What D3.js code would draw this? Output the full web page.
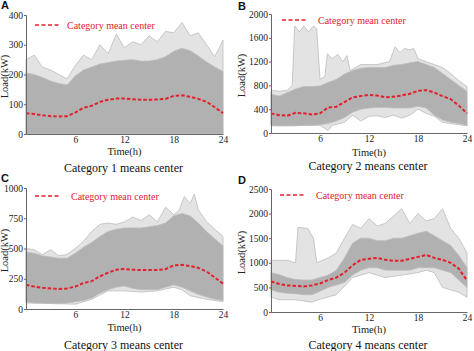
<!DOCTYPE html>
<html>
<head>
<meta charset="utf-8">
<script src="https://cdn.jsdelivr.net/npm/d3@7"></script>
<style>
  body { margin: 0; background: #fff; }
  svg { display: block; }
  text { font-family: "Liberation Serif", "DejaVu Serif", serif; }
</style>
</head>
<body>
<svg id="viz"></svg>
<script>
var width = 474;
var height = 351;

// hours 0..24
var hours = d3.range(0, 25);

// Category 1
var meanA = [70, 67, 63, 60, 59, 60, 72, 88, 95, 108, 115, 119, 119, 117, 115, 115, 116, 118, 128, 130, 125, 118, 108, 90, 70];
var hiA = [205, 200, 190, 178, 170, 165, 195, 215, 225, 235, 240, 245, 248, 250, 245, 245, 250, 260, 278, 288, 280, 262, 242, 225, 210];
var loA = [0, 0, 0, 0, 0, 0, 0, 0, 0, 0, 0, 0, 0, 0, 0, 0, 0, 0, 0, 0, 0, 0, 0, 0, 0];
var maxA = [[0, 250], [1, 265], [2, 225], [3, 215], [4, 200], [5, 185], [6, 230], [7, 265], [8, 250], [9, 300], [10, 270], [11, 335], [12, 290], [13, 310], [14, 300], [15, 330], [16, 310], [17, 345], [18, 340], [19, 375], [20, 330], [21, 340], [22, 300], [23, 260], [24, 315]];

// Category 2
var meanB = [330, 300, 290, 340, 330, 310, 330, 430, 440, 520, 600, 620, 640, 630, 600, 610, 630, 660, 710, 720, 680, 620, 570, 460, 330];
var hiB = [650, 620, 680, 740, 780, 780, 790, 850, 900, 990, 1050, 1090, 1100, 1100, 1100, 1140, 1150, 1180, 1200, 1150, 1100, 1000, 900, 800, 700];
var loB = [130, 120, 120, 120, 130, 130, 140, 160, 200, 260, 350, 400, 420, 430, 430, 420, 420, 420, 450, 420, 300, 220, 180, 160, 130];
var maxB = [[0, 720], [1, 700], [2, 720], [2.6, 800], [2.9, 1800], [3.5, 1700], [4, 1800], [4.6, 1700], [5.2, 1800], [5.6, 1750], [6, 900], [6.6, 950], [6.9, 1330], [7.5, 1250], [8.2, 1320], [8.8, 1200], [9.3, 1300], [9.7, 1050], [11, 1150], [13, 1150], [14.5, 1200], [15.2, 1450], [15.8, 1350], [16.3, 1420], [17, 1400], [17.5, 1420], [18, 1250], [19, 1200], [20, 1150], [21, 1100], [22, 1000], [23, 880], [24, 780]];
var minB = [[0, 120], [6, 130], [7, 40], [7.5, 130], [9, 180], [10, 300], [11, 200], [12, 280], [13, 290], [14, 260], [15, 300], [16, 250], [17, 300], [18, 400], [19, 330], [20, 280], [21, 180], [22, 160], [24, 120]];

// Category 3
var meanC = [200, 185, 175, 170, 165, 170, 185, 215, 230, 270, 300, 325, 330, 325, 322, 322, 322, 330, 360, 365, 355, 340, 310, 260, 210];
var hiC = [470, 460, 440, 430, 420, 420, 460, 510, 550, 600, 640, 660, 670, 670, 670, 680, 690, 710, 770, 790, 770, 710, 640, 580, 520];
var loC = [60, 50, 50, 45, 45, 50, 60, 70, 90, 130, 160, 180, 190, 170, 160, 160, 160, 180, 200, 180, 150, 120, 100, 80, 70];
var maxC = [[0, 500], [1, 490], [2, 450], [3, 490], [4, 440], [5, 450], [6, 500], [7, 560], [8, 640], [9, 700], [10, 710], [11, 700], [12, 720], [13, 760], [14, 730], [15, 780], [16, 720], [17, 840], [18, 780], [18.6, 810], [19.3, 930], [20, 870], [20.5, 950], [21, 820], [22, 720], [23, 660], [24, 600]];
var minC = [[0, 50], [6, 40], [8, 80], [10, 150], [12, 150], [14, 140], [16, 150], [18, 180], [19, 160], [20, 110], [22, 80], [24, 60]];

// Category 4
var meanD = [620, 570, 540, 530, 520, 540, 580, 650, 700, 800, 950, 1060, 1080, 1100, 1060, 1040, 1040, 1080, 1120, 1160, 1100, 1060, 1000, 880, 640];
var hiD = [800, 760, 700, 660, 650, 650, 700, 750, 850, 1100, 1400, 1500, 1500, 1450, 1450, 1500, 1500, 1550, 1600, 1640, 1550, 1450, 1350, 1150, 900];
var loD = [450, 400, 380, 370, 350, 350, 420, 500, 550, 600, 750, 850, 900, 900, 850, 850, 850, 850, 900, 900, 900, 850, 800, 650, 500];
var maxD = [[0, 1050], [2, 1050], [3, 1000], [3.3, 1720], [4.5, 1700], [5.2, 1500], [5.6, 1000], [7, 1100], [8, 1200], [9, 1500], [10, 1780], [11, 1700], [12, 1900], [13, 1750], [14, 1800], [15, 1950], [16, 2100], [17, 1800], [18, 2000], [19, 1850], [20, 1900], [21, 2100], [22, 1700], [23, 1500], [24, 1200]];
var minD = [[0, 300], [1, 250], [3, 250], [5, 200], [6, 260], [8, 350], [10, 700], [12, 800], [14, 700], [16, 750], [18, 800], [19, 850], [20, 800], [21, 500], [22, 450], [23, 400], [24, 300]];

var xTicks = [6, 12, 18, 24];

var panels = [
    { letter: "A", title: "Category 1 means center", mean: meanA, hi: hiA, lo: loA, max: maxA, min: null,
      yMax: 400, yTicks: [0, 100, 200, 300, 400], x0: 26, x1: 223, y0: 134, y1: 15, ox: 0, oy: 0,
      timeY: 155, titleY: 172, legX: 35, legTx: 67, legY: 25, letterY: 9 },
    { letter: "B", title: "Category 2 means center", mean: meanB, hi: hiB, lo: loB, max: maxB, min: minB,
      yMax: 2000, yTicks: [0, 400, 800, 1200, 1600, 2000], x0: 271, x1: 467, y0: 133, y1: 14, ox: 237, oy: 0,
      timeY: 156, titleY: 170, legX: 282, legTx: 318, legY: 20, letterY: 10 },
    { letter: "C", title: "Category 3 means center", mean: meanC, hi: hiC, lo: loC, max: maxC, min: minC,
      yMax: 1000, yTicks: [0, 250, 500, 750, 1000], x0: 26, x1: 223, y0: 309, y1: 188, ox: 0, oy: 175,
      timeY: 331, titleY: 349, legX: 35, legTx: 71, legY: 196, letterY: 182 },
    { letter: "D", title: "Category 4 means center", mean: meanD, hi: hiD, lo: loD, max: maxD, min: minD,
      yMax: 2500, yTicks: [0, 500, 1000, 1500, 2000, 2500], x0: 271, x1: 467, y0: 312, y1: 189, ox: 237, oy: 175,
      timeY: 333, titleY: 349, legX: 280, legTx: 316, legY: 195, letterY: 184 }
];

var svg = d3.select("#viz")
    .attr("width", width)
    .attr("height", height);

panels.forEach(function (p) {
    var x = d3.scaleLinear().domain([0, 24]).range([p.x0, p.x1]);
    var y = d3.scaleLinear().domain([0, p.yMax]).range([p.y0, p.y1]);
    var g = svg.append("g");

    // sparse outer envelope (max outline down to min outline)
    var minPts = p.min ? p.min : [[0, 0], [24, 0]];
    var outer = p.max.concat(minPts.slice().reverse());
    g.append("path")
        .attr("d", d3.line().x(function (d) { return x(d[0]); }).y(function (d) { return y(d[1]); })(outer) + "Z")
        .attr("fill", "#e3e3e3")
        .attr("stroke", "#bdbdbd")
        .attr("stroke-width", 0.8);

    // dense band
    var band = d3.area()
        .x(function (d, i) { return x(hours[i]); })
        .y0(function (d, i) { return y(p.lo[i]); })
        .y1(function (d) { return y(d); });
    g.append("path")
        .attr("d", band(p.hi))
        .attr("fill", "#b1b1b1")
        .attr("stroke", "#bcbcbc")
        .attr("stroke-width", 0.8);

    // mean center
    var line = d3.line()
        .x(function (d, i) { return x(hours[i]); })
        .y(function (d) { return y(d); });
    g.append("path")
        .attr("d", line(p.mean))
        .attr("fill", "none")
        .attr("stroke", "#e3202c")
        .attr("stroke-width", 2)
        .attr("stroke-dasharray", "3.5,2");

    // axes
    var yAxis = d3.axisLeft(y).tickValues(p.yTicks).tickSize(2).tickPadding(1).tickFormat(d3.format("d"));
    var gy = g.append("g").attr("transform", "translate(" + p.x0 + ",0)").call(yAxis);
    var xAxis = d3.axisBottom(x).tickValues(xTicks).tickSize(0).tickPadding(2).tickFormat(d3.format("d"));
    var gx = g.append("g").attr("transform", "translate(0," + p.y0 + ")").call(xAxis);
    [gy, gx].forEach(function (a) {
        a.select(".domain").attr("stroke", "#666").attr("stroke-width", 1);
        a.selectAll(".tick line").attr("stroke", "#666");
        a.selectAll(".tick text")
            .attr("fill", "#222")
            .style("font-family", "Liberation Serif")
            .style("font-size", "9.5px");
    });

    // axis labels
    g.append("text")
        .attr("x", (p.x0 + p.x1) / 2)
        .attr("y", p.timeY)
        .attr("text-anchor", "middle")
        .attr("fill", "#222")
        .style("font-size", "10.5px")
        .text("Time(h)");
    g.append("text")
        .attr("transform", "translate(" + (p.ox + 8) + "," + ((p.y0 + p.y1) / 2 + 2) + ") rotate(-90)")
        .attr("text-anchor", "middle")
        .attr("fill", "#222")
        .style("font-size", "10.5px")
        .text("Load(kW)");

    // legend
    g.append("line")
        .attr("x1", p.legX).attr("x2", p.legX + 25)
        .attr("y1", p.legY).attr("y2", p.legY)
        .attr("stroke", "#e3202c")
        .attr("stroke-width", 1.5)
        .attr("stroke-dasharray", "4,2.5");
    g.append("text")
        .attr("x", p.legTx)
        .attr("y", p.legY + 3.5)
        .attr("fill", "#e3202c")
        .style("font-size", "10px")
        .text("Category mean center");

    // title
    g.append("text")
        .attr("x", (p.x0 + p.x1) / 2 - 1)
        .attr("y", p.titleY)
        .attr("text-anchor", "middle")
        .attr("fill", "#111")
        .style("font-size", "12px")
        .text(p.title);

    // panel letter
    g.append("text")
        .attr("x", p.ox + 1)
        .attr("y", p.letterY)
        .attr("fill", "#111")
        .style("font-family", "Liberation Sans")
        .style("font-weight", "bold")
        .style("font-size", "11px")
        .text(p.letter);
});
</script>
</body>
</html>
